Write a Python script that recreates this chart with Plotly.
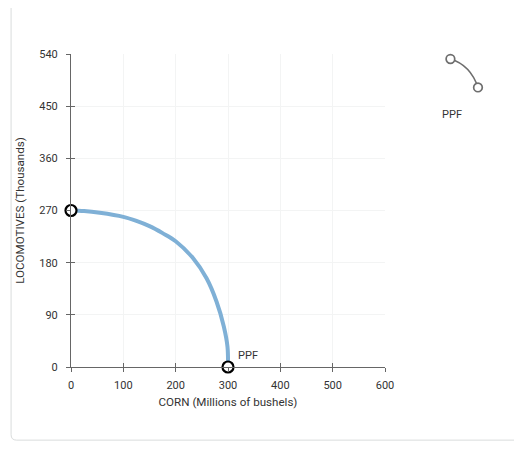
import plotly.graph_objects as go

x_ticks = [0, 100, 200, 300, 400, 500, 600]
y_ticks = [0, 90, 180, 270, 360, 450, 540]

corn = [0, 25, 55, 100, 125, 150, 175, 200, 233, 259, 278, 292, 299, 300]
locomotives = [270, 269, 266, 259, 252, 243, 231, 217, 188, 153, 113, 70, 35, 0]

end_corn = [0, 300]
end_locomotives = [270, 0]

axis_color = '#666666'
text_color = '#333333'
grid_color = '#f3f4f4'
font_name = 'Roboto'

# page size, and the 8px the browser puts around the figure
W, H = 522, 460
PAGE = 8
L, R, T, B = 71.3, 384.7, 54, 367.3


# page pixels to plot-area paper coordinates
def px(v):
    return (v - L) / (R - L)


def py(v):
    return (B - v) / (B - T)


fig = go.Figure()
fig.add_trace(go.Scatter(x=[None], y=[None], showlegend=False))
# traces sit on the second pair of axes, which also adds the inner half of the ticks
fig.add_trace(go.Scatter(x=corn, y=locomotives, mode='lines', cliponaxis=False,
                         xaxis='x2', yaxis='y2',
                         line=dict(color='#7fb0d6', width=4, shape='spline', smoothing=1),
                         hoverinfo='skip', showlegend=False))
fig.add_trace(go.Scatter(x=end_corn, y=end_locomotives, mode='markers', cliponaxis=False,
                         xaxis='x2', yaxis='y2',
                         marker=dict(size=11, color='white', line=dict(color='black', width=2.2)),
                         hoverinfo='skip', showlegend=False))

fig.update_layout(
    width=W - PAGE, height=H - PAGE,
    margin=dict(l=L - PAGE, r=W - R, t=T - PAGE, b=H - B, pad=0),
    autosize=False,
    paper_bgcolor='white',
    plot_bgcolor='white',
    font=dict(family=font_name, size=11, color=text_color),
    showlegend=False,
    xaxis=dict(range=[0, 600], tickvals=x_ticks, ticks='outside', ticklen=4, tickwidth=1,
               tickcolor=axis_color, showline=True, linecolor=axis_color, linewidth=1,
               gridcolor=grid_color, gridwidth=1, zeroline=False, ticklabelstandoff=4,
               title=dict(text='CORN (Millions of bushels)', standoff=6, font=dict(size=11.6)),
               tickfont=dict(size=11)),
    yaxis=dict(range=[0, 540], tickvals=y_ticks, ticks='outside', ticklen=4, tickwidth=1,
               tickcolor=axis_color, showline=True, linecolor=axis_color, linewidth=1,
               gridcolor=grid_color, gridwidth=1, zeroline=False, ticklabelstandoff=6,
               title=dict(text='LOCOMOTIVES (Thousands)', standoff=12, font=dict(size=11.6)),
               tickfont=dict(size=11)),
    xaxis2=dict(overlaying='x', range=[0, 600], tickvals=x_ticks, ticks='inside', ticklen=4,
                tickwidth=1, tickcolor=axis_color, showticklabels=False, showgrid=False,
                zeroline=False, side='bottom', anchor='y2', layer='below traces'),
    yaxis2=dict(overlaying='y', range=[0, 540], tickvals=y_ticks, ticks='inside', ticklen=4,
                tickwidth=1, tickcolor=axis_color, showticklabels=False, showgrid=False,
                zeroline=False, side='left', anchor='x2', layer='below traces'),
    annotations=[
        dict(x=300, y=0, xref='x', yref='y', text='PPF', showarrow=False, xanchor='left',
             yanchor='bottom', xshift=8, yshift=3, font=dict(size=11, color=text_color)),
        dict(x=px(464), y=py(106.5), xref='paper', yref='paper', text='PPF', showarrow=False,
             font=dict(size=11, color=text_color)),
    ],
    shapes=[
        # card outline, open at the top and right
        dict(type='path', xref='paper', yref='paper', layer='below',
             path=f'M {px(11.5)} {py(-2)} L {px(11.5)} {py(435)} Q {px(11.5)} {py(440.5)} {px(17)} {py(440.5)} L {px(524)} {py(440.5)}',
             line=dict(color='#d9dcdc', width=1)),
        # legend icon
        dict(type='path', xref='paper', yref='paper',
             path=f'M {px(450)} {py(59)} Q {px(470)} {py(65)} {px(477.5)} {py(87.5)}',
             line=dict(color='#6e6e6e', width=1.5)),
        dict(type='circle', xref='paper', yref='paper',
             x0=px(445.7), x1=px(454.3), y0=py(63.3), y1=py(54.7),
             fillcolor='white', line=dict(color='#6e6e6e', width=1.7)),
        dict(type='circle', xref='paper', yref='paper',
             x0=px(473.2), x1=px(481.8), y0=py(91.8), y1=py(83.2),
             fillcolor='white', line=dict(color='#6e6e6e', width=1.7)),
    ],
)

fig.write_html("out.html")
